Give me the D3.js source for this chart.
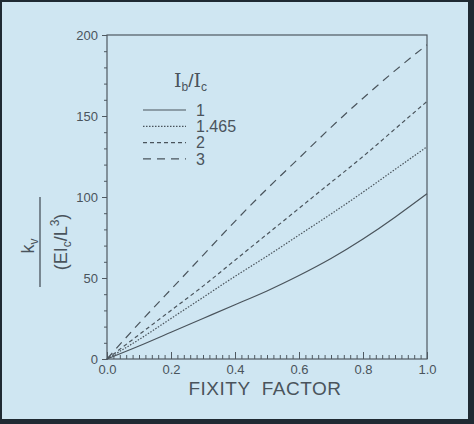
<!DOCTYPE html>
<html>
<head>
<meta charset="utf-8">
<style>
  html, body { margin: 0; padding: 0; background: #1f2a33; }
  svg { display: block; }
  text { font-family: "Liberation Sans", Arial, sans-serif; fill: #4a545c; }
</style>
</head>
<body>
<div id="chart"></div>
<script src="https://d3js.org/d3.v7.min.js"></script>
<script>
// fixity factor samples
var fixity = [0, 0.1, 0.2, 0.3, 0.4, 0.5, 0.6, 0.7, 0.8, 0.9, 1.0];

// kv / (EIc/L^3) for each Ib/Ic ratio
var ratio1    = [0, 8, 16.5, 25, 33.5, 42, 51.5, 62, 74, 87.5, 102];
var ratio1465 = [0, 12, 25, 38, 51, 63.5, 76.5, 89.5, 103, 117, 131];
var ratio2    = [0, 15, 30, 45, 61, 77, 93, 109, 125, 142, 159];
var ratio3    = [0, 22, 43, 64, 85, 105, 124, 143, 161, 178, 194];

var seriesNames = ["1", "1.465", "2", "3"];
var seriesVals = [ratio1, ratio1465, ratio2, ratio3];
var dashes = [null, "1.5,1.5", "4,3", "8,6"];

var xTicks = [0, 0.2, 0.4, 0.6, 0.8, 1.0];
var yTicks = [0, 50, 100, 150, 200];

var W = 474, H = 424;
var margin = {top: 35, right: 47, bottom: 65, left: 107};
var width = W - margin.left - margin.right;
var height = H - margin.top - margin.bottom;

var svg = d3.select("#chart").append("svg")
    .attr("width", W)
    .attr("height", H);

// panel background with dark frame
svg.append("rect")
    .attr("x", 2).attr("y", 2)
    .attr("width", 466).attr("height", 417)
    .attr("fill", "#cfe6f2");

var g = svg.append("g").attr("transform", "translate(" + margin.left + "," + margin.top + ")");

var x = d3.scaleLinear().domain([0, 1]).range([0, width]);
var y = d3.scaleLinear().domain([0, 200]).range([height, 0]);

var axisColor = "#4f5961";

// minor ticks
g.append("g")
    .attr("transform", "translate(0," + height + ")")
    .call(d3.axisTop(x).tickValues(d3.range(0, 1.0001, 0.02)).tickSize(4).tickFormat(""))
    .call(function(a) { a.select(".domain").remove(); a.selectAll("line").attr("stroke", axisColor); });
g.append("g")
    .call(d3.axisLeft(y).tickValues(d3.range(0, 201, 10)).tickSize(3).tickFormat(""))
    .call(function(a) { a.select(".domain").remove(); a.selectAll("line").attr("stroke", axisColor); });

// major ticks + labels
g.append("g")
    .attr("transform", "translate(0," + height + ")")
    .call(d3.axisBottom(x).tickValues(xTicks).tickSize(0).tickPadding(6).tickFormat(d3.format(".1f")))
    .call(function(a) {
      a.select(".domain").remove();
      a.selectAll("text").style("font-size", "13px").attr("fill", "#4a545c");
    });
g.append("g")
    .attr("transform", "translate(0," + height + ")")
    .call(d3.axisTop(x).tickValues(xTicks).tickSize(7).tickFormat(""))
    .call(function(a) { a.select(".domain").remove(); a.selectAll("line").attr("stroke", axisColor); });
g.append("g")
    .call(d3.axisLeft(y).tickValues(yTicks).tickSize(5).tickPadding(4))
    .call(function(a) {
      a.select(".domain").remove();
      a.selectAll("line").attr("stroke", axisColor);
      a.selectAll("text").style("font-size", "13px").attr("fill", "#4a545c");
    });

// plot box
g.append("rect")
    .attr("width", width).attr("height", height)
    .attr("fill", "none")
    .attr("stroke", axisColor)
    .attr("stroke-width", 1.2);

// curves
var line = d3.line()
    .x(function(d, i) { return x(fixity[i]); })
    .y(function(d) { return y(d); })
    .curve(d3.curveNatural);

seriesVals.forEach(function(vals, i) {
  g.append("path")
      .attr("d", line(vals))
      .attr("fill", "none")
      .attr("stroke", "#4a545c")
      .attr("stroke-width", 1.2)
      .attr("stroke-dasharray", dashes[i]);
});

// x title
svg.append("text")
    .attr("x", 265).attr("y", 395)
    .attr("text-anchor", "middle")
    .style("font-size", "19px")
    .style("letter-spacing", "0.5px")
    .attr("xml:space", "preserve")
    .text("FIXITY  FACTOR");

// y title as a fraction
var yl = svg.append("g").attr("transform", "translate(40,242) rotate(-90)");
yl.append("line")
    .attr("x1", -45).attr("x2", 45)
    .attr("stroke", "#4a545c").attr("stroke-width", 1.3);
var num = yl.append("text").attr("x", -4).attr("y", -6).attr("text-anchor", "middle").style("font-size", "18px");
num.append("tspan").text("k");
num.append("tspan").attr("dy", 4).style("font-size", "12px").text("v");
var den = yl.append("text").attr("x", 0).attr("y", 27).attr("text-anchor", "middle").style("font-size", "18px");
den.append("tspan").text("(EI");
den.append("tspan").attr("dy", 4).style("font-size", "12px").text("c");
den.append("tspan").attr("dy", -4).text("/L");
den.append("tspan").attr("dy", -8).style("font-size", "12px").text("3");
den.append("tspan").attr("dy", 8).text(")");

// legend
var lt = svg.append("text").attr("x", 174).attr("y", 87).style("font-size", "19px");
lt.append("tspan").style("font-family", "'DejaVu Serif', serif").text("I");
lt.append("tspan").attr("dy", 4).style("font-size", "12px").text("b");
lt.append("tspan").attr("dy", -4).text("/");
lt.append("tspan").style("font-family", "'DejaVu Serif', serif").text("I");
lt.append("tspan").attr("dy", 4).style("font-size", "12px").text("c");

var legend = svg.append("g")
  .selectAll("g")
  .data(seriesNames)
  .enter().append("g")
    .attr("transform", function(d, i) { return "translate(0," + (110 + i * 16.3) + ")"; });

legend.append("line")
    .attr("x1", 143).attr("x2", 186)
    .attr("stroke", "#4a545c")
    .attr("stroke-width", 1.2)
    .attr("stroke-dasharray", function(d, i) { return dashes[i]; });

legend.append("text")
    .attr("x", 196)
    .attr("dy", "0.36em")
    .style("font-size", "16px")
    .text(function(d) { return d; });
</script>
</body>
</html>
